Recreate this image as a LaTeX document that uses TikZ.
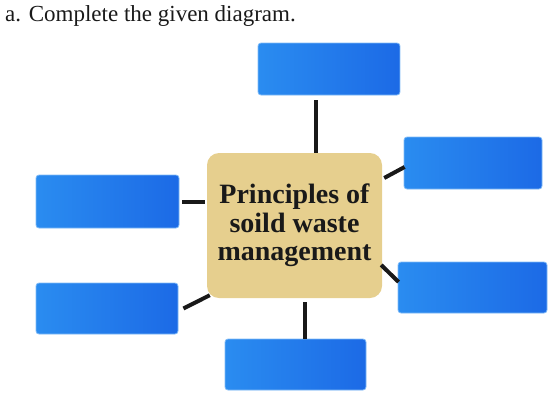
\documentclass[tikz,border=0pt]{standalone}
\usepackage{fontspec}
\setmainfont{Liberation Serif}
\usetikzlibrary{calc}
\definecolor{boxL}{HTML}{2A8CF0}
\definecolor{boxR}{HTML}{1C6AE6}
\definecolor{tan}{HTML}{E6CF8E}
\begin{document}
\begin{tikzpicture}[x=1pt,y=-1pt,
	blank/.style={rectangle,rounded corners=3pt,left color=boxL,right color=boxR,draw=boxL!60,line width=0.8pt,inner sep=0pt},
	link/.style={line width=4pt,black!90}]
	\useasboundingbox (0,0) rectangle (554,400);
	\node[anchor=base west,inner sep=0pt,text=black!90,font=\fontsize{23}{26}\selectfont] (title) at (5,21) {a. Complete the given diagram.};
	% o giua
	\node[rectangle,rounded corners=12pt,fill=tan,minimum width=175pt,minimum height=145pt,align=center,text=black!90,
		font=\fontsize{28}{28.5}\selectfont\bfseries] (cen) at (294.5,225.5)
		{Principles of\\ soild waste\\ management};
	% cac o trong
	\node[blank,minimum width=142pt,minimum height=52pt] (top) at (329,69) {};
	\node[blank,minimum width=138pt,minimum height=52pt] (ru) at (473,163) {};
	\node[blank,minimum width=149pt,minimum height=51pt] (rl) at (472.5,287.5) {};
	\node[blank,minimum width=141pt,minimum height=51pt] (bot) at (295.5,364.5) {};
	\node[blank,minimum width=143pt,minimum height=53pt] (lu) at (107.5,201.5) {};
	\node[blank,minimum width=142pt,minimum height=51pt] (ll) at (107,308.5) {};
	% duong noi
	\draw[link] ($(top.south)+(-13,5)$) -- ($(cen.north)+(21.5,0)$);
	\draw[link] ($(lu.east)+(3,0.5)$) -- ($(cen.west)+(-2,-23.5)$);
	\draw[link] ($(ll.east)+(5,0)$) -- ($(cen.south west)+(3,-3)$);
	\draw[link] ($(cen.south)+(10.5,4)$) -- ($(bot.north)+(9.5,0)$);
	\draw[link] ($(cen.east)+(2,-47.5)$) -- ($(ru.west)+(1,4)$);
	\draw[link] ($(cen.east)+(-1,39.5)$) -- ($(rl.west)+(1,-5.5)$);
\end{tikzpicture}
\end{document}
